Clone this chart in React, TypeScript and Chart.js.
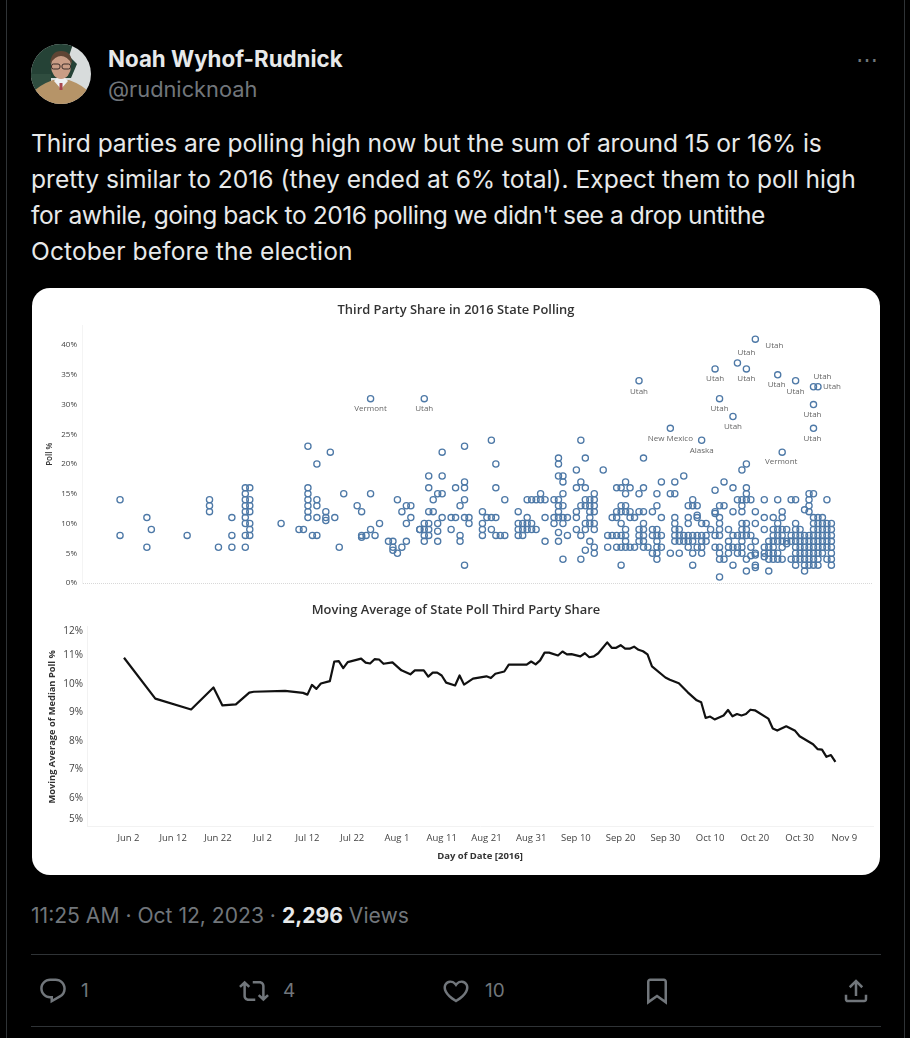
import { useEffect, useRef } from "react";
import { Chart, registerables } from "chart.js";

Chart.register(...registerables);

// x values are days counted from Jun 1 2016
const pollDays = [
  0, 6, 7, 15, 20, 22, 25, 28, 29, 36, 40, 41, 42, 43, 44, 46, 47, 48, 49, 50, 53, 54, 55, 56, 57, 58, 60, 61, 62, 63,
  64, 65, 67, 68, 69, 70, 71, 72, 74, 75, 76, 77, 78, 81, 82, 83, 84, 85, 86, 89, 90, 91, 92, 93, 94, 95, 97, 98, 99,
  100, 102, 103, 104, 105, 106, 108, 109, 110, 111, 112, 113, 114, 115, 116, 117, 118, 119, 120, 121, 123, 124, 125,
  126, 127, 128, 129, 130, 131, 132, 133, 134, 135, 136, 137, 138, 139, 140, 141, 142, 144, 145, 146, 147, 148, 149,
  150, 151, 152, 153, 154, 155, 156, 157, 158, 159,
];
const pollValues = [
  [14, 8], [11, 6], [9], [8], [14, 13, 12], [6], [11, 8, 6], [16, 15, 14, 13, 12, 11, 10, 8, 6],
  [16, 14, 13, 12, 10, 9, 8], [10], [9], [9], [23, 16, 15, 14, 13, 12, 11], [8], [20, 14, 13, 11, 8], [12, 11, 10.5],
  [22], [11], [6], [15], [13], [12, 8, 7.7], [8], [31, 15, 9], [8], [10], [7], [7, 6, 5.5], [14, 5], [12, 6],
  [13, 10, 7], [13, 11], [9, 9], [31, 10, 9, 8, 7], [18, 16, 12, 10, 9, 8], [14, 12], [15, 10, 8.7, 7],
  [22, 18, 15, 11], [11, 9], [16, 11], [13, 8, 7], [23, 17, 16, 14, 11, 3], [11, 10], [12, 10, 9, 8], [11],
  [24, 11, 9], [20, 16, 11, 8], [8], [14, 8], [12, 10, 9, 8], [10, 9, 8], [14, 11, 10, 9], [14, 10, 9], [14, 9],
  [15, 14], [14, 11, 7], [14, 11, 10], [21, 20, 18, 14, 13, 12, 11, 8.5, 7], [18, 17, 15, 13, 11, 10, 4], [11, 8],
  [19, 16, 12, 11, 9], [24, 17, 13, 8, 4], [21, 16, 14, 13, 10, 9, 5.5], [14, 13, 12, 11, 10, 7],
  [15, 14, 13, 12, 10, 9, 6, 5], [19], [8, 6], [11, 8], [16, 12, 11, 8, 6], [16, 13, 12, 10, 8, 6, 3],
  [17, 15, 13, 12, 9, 8, 7, 6], [16, 12, 11, 6], [11, 6], [34, 15, 12, 9, 8, 7], [21, 16, 12, 10, 9, 8, 7, 6], [6],
  [12, 9, 8, 5], [15, 13, 9, 8, 7, 6, 5, 4], [17, 11, 8, 6], [26, 15, 5], [17, 15, 11, 10, 9, 8, 7], [9, 8, 7, 5],
  [18, 8, 7], [13, 11, 10, 8, 7, 6], [14, 13, 8, 7, 5, 3], [13, 11.4, 11, 8, 6], [24, 10, 8, 7, 6, 5], [10, 8, 7], [9],
  [36, 15.6, 12, 11.7, 8, 6], [31, 13, 11, 10, 9, 8, 6, 5, 4, 1], [17, 13, 4], [9, 7, 6, 5], [28, 16, 12, 8, 6, 3],
  [37, 14, 8, 6, 5], [19, 14, 13, 12, 10, 9, 8, 7, 6, 5], [36, 20, 16, 15, 14, 10, 9, 8, 4, 2], [14, 8, 6, 4.6],
  [41, 12, 10, 7, 5, 4.7, 3, 2.6], [14, 11, 9, 6, 5, 4.4], [7, 6, 5, 4, 2], [11, 9, 8, 7, 6, 5, 4],
  [35, 14, 10, 9, 8, 7, 5, 4], [22, 12, 11, 9, 8, 7, 6, 4], [9, 7, 6.6], [14, 8, 7, 4],
  [34, 14, 10, 9, 8, 7, 6, 5, 4, 3], [9, 8, 7, 6, 5, 4], [12.3, 8, 7, 6, 5, 4, 3, 2],
  [15, 14, 13, 12, 8, 7, 6, 5, 4, 3], [33, 30, 26, 15, 11, 10, 9, 8, 7, 6, 5, 4, 3],
  [33, 11, 10, 9, 8, 7, 6, 5, 4, 3], [11, 10, 9, 8, 7, 6, 5], [14, 10, 9, 8, 7, 6, 4], [10, 9, 8, 7, 6, 5, 4, 3],
];

const labelStates = [
  "Vermont", "Utah", "Utah", "New Mexico", "Alaska", "Utah", "Utah", "Utah", "Utah", "Utah", "Utah", "Utah", "Utah",
  "Utah", "Utah", "Utah", "Utah", "Vermont",
];
const labelDays = [56, 68, 116, 123, 130, 133, 134, 137, 138, 140, 142, 147, 151, 155, 156, 155, 155, 148];
const labelValues = [31, 31, 34, 26, 24, 36, 31, 28, 37, 36, 41, 35, 34, 33, 33, 30, 26, 22];
// where each state name sits relative to its circle
const labelOffsets = [
  [0, 10], [0, 10], [0, 10.5], [0, 10], [0, 10.5], [0, 10], [0, 10], [0, 10], [9, -10], [0, 10], [19, 7], [-1, 10],
  [0, 10.5], [9, -10], [14, 0], [-1, 10], [-1, 10], [-1, 10],
];

const movingDays = [
  0, 7, 15, 20, 22, 25, 28, 29, 36, 40, 41, 42, 43, 44, 46, 47, 48, 49, 50, 53, 54, 55, 56, 57, 58, 60, 62, 64, 65, 67,
  68, 69, 70, 71, 72, 74, 75, 76, 78, 81, 82, 83, 85, 86, 90, 91, 92, 93, 94, 95, 97, 98, 99, 100, 102, 103, 104, 105,
  106, 108, 109, 110, 111, 112, 113, 114, 115, 116, 117, 118, 121, 122, 124, 126, 128, 129, 130, 131, 132, 134, 135,
  136, 137, 138, 139, 140, 141, 144, 145, 146, 148, 150, 151, 154, 155, 156, 157, 158, 159,
];
const movingValues = [
  10.92, 9.49, 9.11, 9.88, 9.25, 9.29, 9.7, 9.73, 9.76, 9.69, 9.63, 9.97, 9.83, 10.02, 10.1, 10.79, 10.8, 10.56, 10.77,
  10.89, 10.75, 10.72, 10.87, 10.86, 10.71, 10.76, 10.48, 10.34, 10.48, 10.48, 10.26, 10.4, 10.4, 10.3, 10.05, 9.95,
  10.3, 9.98, 10.19, 10.27, 10.21, 10.36, 10.44, 10.68, 10.68, 10.79, 10.69, 10.83, 11.1, 11.1, 11.0, 11.14, 11.04,
  11.05, 10.97, 11.08, 10.94, 10.97, 11.08, 11.46, 11.27, 11.27, 11.36, 11.24, 11.24, 11.31, 11.2, 11.15, 11.04, 10.62,
  10.23, 10.15, 10.03, 9.71, 9.43, 9.36, 8.81, 8.86, 8.76, 8.9, 9.09, 8.87, 8.95, 8.9, 8.95, 9.1, 9.08, 8.79, 8.44,
  8.37, 8.52, 8.36, 8.17, 7.89, 7.72, 7.7, 7.45, 7.51, 7.27,
];

const pollTicks = [0, 5, 10, 15, 20, 25, 30, 35, 40];
// Tableau pulls the two end labels inside the pane, so they sit a little off their true value
const movingTicks = [5.27, 6, 7, 8, 9, 10, 11, 11.84];
const dateTicks = [1, 11, 21, 31, 41, 51, 61, 71, 81, 91, 101, 111, 121, 131, 141, 151, 161];
const dateLabels = [
  "Jun 2", "Jun 12", "Jun 22", "Jul 2", "Jul 12", "Jul 22", "Aug 1", "Aug 11", "Aug 21", "Aug 31", "Sep 10", "Sep 20",
  "Sep 30", "Oct 10", "Oct 20", "Oct 30", "Nov 9",
];

const CHART_FONT = "'Open Sans'";

const stateLabelsPlugin = {
  id: "stateLabels",
  afterDatasetsDraw(chart: any) {
    const { ctx, scales } = chart;
    ctx.save();
    ctx.font = `8px ${CHART_FONT}`;
    ctx.fillStyle = "#666";
    ctx.textAlign = "center";
    ctx.textBaseline = "middle";
    labelStates.forEach((state, i) => {
      const x = scales.x.getPixelForValue(labelDays[i]) + labelOffsets[i][0];
      const y = scales.y.getPixelForValue(labelValues[i]) + labelOffsets[i][1];
      ctx.fillText(state, x, y);
    });
    ctx.restore();
  },
};

function PollScatter() {
  const canvasRef = useRef<HTMLCanvasElement>(null);

  useEffect(() => {
    if (!canvasRef.current) return;
    const points = pollDays.flatMap((day, i) => pollValues[i].map((value) => ({ x: day, y: value })));

    const chart = new Chart(canvasRef.current, {
      type: "scatter",
      data: {
        datasets: [
          {
            data: points,
            pointRadius: 3.1,
            pointBorderWidth: 1.3,
            pointBorderColor: "#4e79a7",
            pointBackgroundColor: "rgba(255,255,255,0)",
          },
        ],
      },
      options: {
        animation: false,
        responsive: false,
        layout: { autoPadding: false, padding: { left: 7, right: 7, bottom: 10 } },
        plugins: {
          legend: { display: false },
          tooltip: { enabled: false },
          title: {
            display: true,
            text: "Third Party Share in 2016 State Polling",
            color: "#333",
            font: { family: CHART_FONT, size: 12.9, weight: "600" },
            padding: { top: 14.5, bottom: 7.5 },
          },
        },
        scales: {
          x: { display: false, type: "linear", min: -8.5, max: 168.3 },
          y: {
            min: 0,
            max: 43.3,
            afterFit: (scale: any) => {
              scale.width = 43;
            },
            afterBuildTicks: (scale: any) => {
              scale.ticks = pollTicks.map((value) => ({ value }));
            },
            border: { color: "#f4f4f4", dash: [1, 1] },
            grid: {
              drawTicks: false,
              color: (ctx: any) => (ctx.tick && ctx.tick.value === 0 ? "#d8d8d8" : "rgba(0,0,0,0)"),
            },
            ticks: {
              autoSkip: false,
              padding: 5,
              color: "#444",
              font: { family: CHART_FONT, size: 8 },
              callback: (value: any) => `${value}%`,
            },
            title: {
              display: true,
              text: "Poll %",
              color: "#333",
              font: { family: CHART_FONT, size: 8, weight: "600" },
              padding: { top: 6, bottom: 0 },
            },
          },
        },
      },
      plugins: [stateLabelsPlugin],
    } as any);

    return () => chart.destroy();
  }, []);

  return <canvas ref={canvasRef} width={848} height={305} style={{ position: "absolute", left: 0, top: 0, width: 848, height: 305, filter: "blur(0.3px)" }} />;
}

function MovingAverageLine() {
  const canvasRef = useRef<HTMLCanvasElement>(null);

  useEffect(() => {
    if (!canvasRef.current) return;
    const points = movingDays.map((day, i) => ({ x: day, y: movingValues[i] }));

    const chart = new Chart(canvasRef.current, {
      type: "line",
      data: {
        datasets: [{ data: points, borderColor: "#111", borderWidth: 2.2, borderJoinStyle: "round", pointRadius: 0, tension: 0 }],
      },
      options: {
        animation: false,
        responsive: false,
        layout: { autoPadding: false, padding: { left: 7, right: 7 } },
        plugins: {
          legend: { display: false },
          tooltip: { enabled: false },
          title: {
            display: true,
            text: "Moving Average of State Poll Third Party Share",
            color: "#333",
            font: { family: CHART_FONT, size: 12.9, weight: "600" },
            padding: { top: 9.5, bottom: 9 },
          },
        },
        scales: {
          x: {
            type: "linear",
            min: -8.27,
            max: 167.4,
            afterFit: (scale: any) => {
              scale.height = 48.3;
            },
            afterBuildTicks: (scale: any) => {
              scale.ticks = dateTicks.map((value) => ({ value }));
            },
            border: { color: "#f2f2f2" },
            grid: { display: false, drawTicks: false },
            ticks: {
              autoSkip: false,
              maxRotation: 0,
              padding: 6,
              color: "#444",
              font: { family: CHART_FONT, size: 9.5 },
              callback: (_value: any, index: number) => dateLabels[index],
            },
            title: {
              display: true,
              text: "Day of Date [2016]",
              color: "#333",
              font: { family: CHART_FONT, size: 9.5, weight: "bold" },
              padding: { top: 5, bottom: 13.3 },
            },
          },
          y: {
            min: 5,
            max: 12,
            afterFit: (scale: any) => {
              scale.width = 48;
            },
            afterBuildTicks: (scale: any) => {
              scale.ticks = movingTicks.map((value) => ({ value }));
            },
            border: { color: "#f2f2f2" },
            grid: { display: false, drawTicks: false },
            ticks: {
              autoSkip: false,
              padding: 4,
              color: "#444",
              font: { family: CHART_FONT, size: 10 },
              callback: (value: any) => `${Math.round(value)}%`,
            },
            title: {
              display: true,
              text: "Moving Average of Median Poll %",
              color: "#333",
              font: { family: CHART_FONT, size: 9.3, weight: "bold" },
              padding: { top: 7.5, bottom: 0 },
            },
          },
        },
      },
    } as any);

    return () => chart.destroy();
  }, []);

  return <canvas ref={canvasRef} width={848} height={282} style={{ position: "absolute", left: 0, top: 305, width: 848, height: 282, filter: "blur(0.3px)" }} />;
}

const UI_FONT = "Inter, sans-serif";
const GREY = "#71767b";

function Icon({ x, y, d }: { x: number; y: number; d: string }) {
  return (
    <svg viewBox="0 0 24 24" width={30} height={30} fill={GREY} style={{ position: "absolute", left: x - 15, top: y - 15 }}>
      <path d={d} />
    </svg>
  );
}

function Avatar() {
  return (
    <svg width={60} height={60} viewBox="0 0 60 60" style={{ position: "absolute", left: 31, top: 44 }}>
      <clipPath id="round">
        <circle cx={30} cy={30} r={30} />
      </clipPath>
      <g clipPath="url(#round)">
        <rect width={60} height={60} fill="#d8dcdc" />
        <path d="M0 0 H42 L38 12 L46 20 L40 34 H0 Z" fill="#254236" />
        <rect y={30} width={20} height={18} fill="#2f4d3f" />
        <path d="M0 60 V50 Q8 41 22 36 L38 36 Q52 41 60 50 V60 Z" fill="#b69468" />
        <path d="M23 37 L30 45 L37 37 L33 33 H27 Z" fill="#eef0f2" />
        <rect x={28.5} y={39} width={3} height={7} fill="#a8464e" />
        <ellipse cx={30} cy={22} rx={10} ry={13} fill="#c99d86" />
        <path d="M19 20 Q20 7 30 7 Q41 7 41 20 Q36 12 30 12 Q24 12 19 20 Z" fill="#5e4434" />
        <rect x={20.5} y={20} width={8.5} height={5} rx={2} fill="none" stroke="#3a2c28" strokeWidth={1} />
        <rect x={31} y={20} width={8.5} height={5} rx={2} fill="none" stroke="#3a2c28" strokeWidth={1} />
      </g>
    </svg>
  );
}

const rule = { position: "absolute", left: 31, width: 850, height: 1, background: "#2f3336" } as const;
const tweetLines = [
  "Third parties are polling high now but the sum of around 15 or 16% is",
  "pretty similar to 2016 (they ended at 6% total). Expect them to poll high",
  "for awhile, going back to 2016 polling we didn't see a drop untithe",
  "October before the election",
];
// Inter runs a bit differently from the original face, so each line is nudged to the same end point
const tweetSpacing = [-0.09, 0, -0.45, 0.08];

export default function App() {
  return (
    <div style={{ position: "absolute", left: 0, top: 0, width: 910, height: 1038, background: "#000", overflow: "hidden", fontFamily: UI_FONT, whiteSpace: "nowrap" }}>
      <div style={{ position: "absolute", left: 6, top: 0, width: 1, height: 1038, background: "#2f3336" }} />
      <div style={{ position: "absolute", left: 904, top: 0, width: 1, height: 1038, background: "#2f3336" }} />
      <Avatar />
      <div style={{ position: "absolute", left: 108, top: 45, color: "#e7e9ea", fontSize: 22.3, fontWeight: 700 }}>Noah Wyhof-Rudnick</div>
      <div style={{ position: "absolute", left: 108, top: 76, color: GREY, fontSize: 21.8 }}>@rudnicknoah</div>
      <div style={{ position: "absolute", left: 856, top: 46, color: GREY, fontSize: 22 }}>⋯</div>
      {tweetLines.map((line, i) => (
        <div key={line} style={{ position: "absolute", left: 31, top: 125 + i * 36, color: "#e7e9ea", fontSize: 24.6, lineHeight: "36px", letterSpacing: tweetSpacing[i] }}>
          {line}
        </div>
      ))}
      <div style={{ position: "absolute", left: 32, top: 288, width: 848, height: 587, background: "#fff", borderRadius: 18, overflow: "hidden" }}>
        <PollScatter />
        <MovingAverageLine />
      </div>
      <div style={{ position: "absolute", left: 31, top: 903, color: GREY, fontSize: 21.1 }}>
        11:25 AM · Oct 12, 2023 · <span style={{ color: "#e7e9ea", fontWeight: 700 }}>2,296</span> Views
      </div>
      <div style={{ ...rule, top: 954 }} />
      <Icon x={53} y={991} d="M1.751 10c0-4.42 3.584-8 8.005-8h4.366c4.49 0 8.129 3.64 8.129 8.13 0 2.96-1.607 5.68-4.196 7.11l-8.054 4.46v-3.69h-.067c-4.49.1-8.183-3.51-8.183-8.01zm8.005-6c-3.317 0-6.005 2.69-6.005 6 0 3.37 2.77 6.08 6.138 6.01l.351-.01h1.761v2.3l5.087-2.81c1.951-1.08 3.163-3.13 3.163-5.36 0-3.39-2.744-6.13-6.129-6.13H9.756z" />
      <div style={{ position: "absolute", left: 81, top: 979, color: GREY, fontSize: 19 }}>1</div>
      <Icon x={254} y={991} d="M4.5 3.88l4.432 4.14-1.364 1.46L5.5 7.55V16c0 1.1.896 2 2 2H13v2H7.5c-2.209 0-4-1.79-4-4V7.55L1.432 9.48.068 8.02 4.5 3.88zM16.5 6H11V4h5.5c2.209 0 4 1.79 4 4v8.45l2.068-1.93 1.364 1.46-4.432 4.14-4.432-4.14 1.364-1.46 2.068 1.93V8c0-1.1-.896-2-2-2z" />
      <div style={{ position: "absolute", left: 283, top: 979, color: GREY, fontSize: 19 }}>4</div>
      <Icon x={456} y={991} d="M16.697 5.5c-1.222-.06-2.679.51-3.89 2.16l-.805 1.09-.806-1.09C9.984 6.01 8.526 5.44 7.304 5.5c-1.243.07-2.349.78-2.91 1.91-.552 1.12-.633 2.78.479 4.82 1.074 1.97 3.257 4.27 7.129 6.61 3.87-2.34 6.052-4.64 7.126-6.61 1.111-2.04 1.03-3.7.477-4.82-.561-1.13-1.666-1.84-2.908-1.91zm4.187 7.69c-1.351 2.48-4.001 5.12-8.379 7.67l-.503.3-.504-.3c-4.379-2.55-7.029-5.19-8.382-7.67-1.36-2.5-1.41-4.86-.514-6.67.887-1.79 2.647-2.91 4.601-3.01 1.651-.09 3.368.56 4.798 2.01 1.429-1.45 3.146-2.1 4.796-2.01 1.954.1 3.714 1.22 4.601 3.01.896 1.81.846 4.17-.514 6.67z" />
      <div style={{ position: "absolute", left: 485, top: 979, color: GREY, fontSize: 19 }}>10</div>
      <Icon x={657} y={991} d="M4 4.5C4 3.12 5.119 2 6.5 2h11C18.881 2 20 3.12 20 4.5v18.44l-8-5.71-8 5.71V4.5zM6.5 4c-.276 0-.5.22-.5.5v14.56l6-4.29 6 4.29V4.5c0-.28-.224-.5-.5-.5h-11z" />
      <Icon x={856} y={991} d="M12 2.59l5.7 5.7-1.41 1.42L13 6.41V16h-2V6.41l-3.3 3.3-1.41-1.42L12 2.59zM21 15l-.02 3.51c0 1.38-1.12 2.49-2.5 2.49H5.5C4.11 21 3 19.88 3 18.5V15h2v3.5c0 .28.22.5.5.5h12.98c.28 0 .5-.22.5-.5L19 15h2z" />
      <div style={{ ...rule, top: 1026 }} />
    </div>
  );
}
